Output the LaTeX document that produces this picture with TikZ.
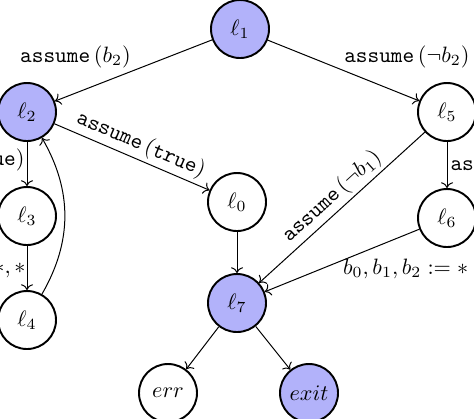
\documentclass[tikz,border=0pt]{standalone}
\usetikzlibrary{arrows.meta}
\definecolor{nodefill}{RGB}{178,178,250}
\tikzset{
  loc/.style={circle,draw,line width=0.87pt,minimum size=26.1pt,inner sep=0pt},
  hot/.style={loc,fill=nodefill},
  edge/.style={->,line width=0.45pt}
}
\newcommand{\asm}[1]{\texttt{assume}\,$(#1)$}
\begin{document}
\begin{tikzpicture}[x=0.45pt,y=-0.45pt]
\useasboundingbox (0,0) rectangle (474,418);
\clip (0,0) rectangle (474,418);
\node[hot] (l1) at (240,29) {$\ell_1$};
\node[hot] (l2) at (27,112) {$\ell_2$};
\node[loc] (l5) at (447,112) {$\ell_5$};
\node[loc] (l0) at (237,202) {$\ell_0$};
\node[loc] (l3) at (27,216) {$\ell_3$};
\node[loc] (l6) at (447,218) {$\ell_6$};
\node[loc] (l4) at (27,320) {$\ell_4$};
\node[hot] (l7) at (237,303) {$\ell_7$};
\node[loc] (err) at (168,393) {$err$};
\node[hot] (exit) at (309,393) {$exit$};
\draw[edge] (l1) -- node[pos=0.78,shift={(-14,-31)}] {\asm{b_2}} (l2);
\draw[edge] (l1) -- node[pos=0.8,shift={(18,-32)}] {\asm{\neg b_2}} (l5);
\draw[edge] (l2) -- node[sloped,above,pos=0.52,inner sep=1.5pt] {\asm{\texttt{true}}} (l0);
\draw[edge] (l2) -- node[anchor=east,inner sep=0pt,shift={(-2,-4)}] {\asm{\texttt{true}}} (l3);
\draw[edge] (l3) -- node[anchor=east,inner sep=0pt,shift={(-1,0)}] {$b_0, b_1 := *, *$} (l4);
\draw[edge] (l4) to[bend right=30] (l2);
\draw[edge] (l5) -- node[anchor=west,inner sep=0pt,shift={(3,0)}] {\asm{b_1}} (l6);
\draw[edge] (l5) -- node[sloped,above,pos=0.5,inner sep=1.5pt] {\asm{\neg b_1}} (l7);
\draw[edge] (l0) -- (l7);
\draw[edge] (l6) -- node[pos=0.23,shift={(22,25)}] {$b_0, b_1, b_2 := *$} (l7);
\draw[edge] (l7) -- (err);
\draw[edge] (l7) -- (exit);
\end{tikzpicture}
\end{document}
